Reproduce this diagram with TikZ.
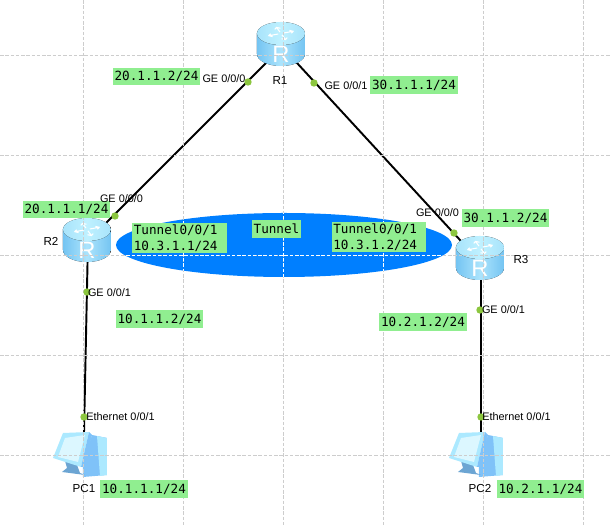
\documentclass[tikz,border=0pt]{standalone}
\usepackage{fontspec}
\setmainfont{Liberation Sans}
\newfontfamily\labelmono{DejaVu Sans Mono}
\definecolor{ipgreen}{HTML}{90EE90}
\definecolor{portgreen}{HTML}{8CC63F}
\definecolor{tunnelblue}{HTML}{007FFF}
\definecolor{gridgrey}{HTML}{CDCDCD}
\definecolor{routerside}{HTML}{74C4F2}
\definecolor{routermid}{HTML}{ACE4FC}
\definecolor{routertop}{HTML}{BFF1FF}
\definecolor{pcblue}{HTML}{7FC2F8}
\definecolor{pcframe}{HTML}{ACE9FF}
\definecolor{pcscreen}{HTML}{DCF7FF}
\tikzset{
    x=0.02cm,y=-0.02cm,
    device/.style={minimum width=27pt,minimum height=25pt,inner sep=0pt},
    port/.style={circle,fill=portgreen,minimum size=4.2pt,inner sep=0pt},
    iflabel/.style={font=\fontsize{6.2}{7}\selectfont,inner sep=0pt},
    namelabel/.style={font=\fontsize{6.6}{8}\selectfont,inner sep=0pt},
    iplabel/.style={fill=ipgreen,font=\labelmono\fontsize{7.2}{9.2}\selectfont,inner sep=1pt,
        minimum width=50pt,minimum height=10pt},
    tunnelbox/.style={iplabel,align=left,text width=52pt},
    link/.style={draw=black,line width=1.1pt},
    gridline/.style={gridgrey,dash pattern=on 2pt off 1pt,line width=0.4pt},
    routerpic/.pic={
        \fill[left color=routerside,right color=routerside,middle color=routermid]
            (-24,-11) -- (-24,10) arc[start angle=180,end angle=360,x radius=24,y radius=-12]
            -- (24,-11) -- cycle;
        \fill[left color=routertop!70!routerside,right color=routertop!70!routerside,middle color=routertop]
            (0,-10.5) ellipse[x radius=24,y radius=11.5];
        \foreach \a in {20,110,200,290}
            \draw[white,line width=0.6pt,shift={(0,-10.5)},yscale=0.5,rotate=\a]
                (3,0) -- (13,0) (10,-3) -- (13,0) -- (10,3);
        \node[white,font=\fontsize{13.5}{14}\selectfont,inner sep=0pt] (-r) at (0,10.7) {R};
    },
    pcpic/.pic={
        \fill[pcblue] (7,-20) -- (22,-17) -- (22,20) -- (-2,22) -- (-2,10) -- cycle;
        \fill[pcframe] (12,-19) -- (22,-17) -- (22,20) -- (15,21) -- cycle;
        \fill[pcblue!85!black] (-20,6) -- (-8,10) -- (-5,18) -- (0,20) -- (-23,17) -- (-18,13) -- cycle;
        \fill[pcframe] (-22,-22) -- (4,-23) -- (-4,12) -- (-32,3) -- cycle;
        \fill[pcblue] (4,-23) -- (7,-20) -- (0,12) -- (-4,12) -- cycle;
        \fill[pcscreen] (-20,-17) -- (0,-20) -- (-7,7) -- (-27,2) -- cycle;
    }
}
\begin{document}
\begin{tikzpicture}
    \useasboundingbox (0,0) rectangle (610,526);

    \fill[tunnelblue] (284,245) ellipse[x radius=168,y radius=32];

    \node[device] (R1) at (281,44) {};
    \node[device] (R2) at (87,240) {};
    \node[device] (R3) at (480,258) {};
    \node[device] (PC1) at (85,455) {};
    \node[device] (PC2) at (481,455) {};

    \draw[link] ([shift={(4,0)}]R1.center) -- ([shift={(2,0)}]R2.center);
    \draw[link] ([shift={(-1.5,0)}]R1.center) -- ([shift={(-3.4,0)}]R3.center);
    \draw[link] ([shift={(1,0)}]R2.center) -- ([shift={(-1,0)}]PC1.north);
    \draw[link] ([shift={(1,0)}]R3.center) -- (PC2.north);

    \foreach \r in {R1,R2,R3}
        \pic (\r pic) at (\r) {routerpic};
    \foreach \p in {PC1,PC2}
        \pic at (\p) {pcpic};

    \foreach \x in {83,183,283,383,483,583}
        \draw[gridline] (\x,0) -- (\x,526);
    \foreach \y in {55,155,255,355,455}
        \draw[gridline] (0,\y) -- (610,\y);
    \begin{scope}
        \clip (284,245) ellipse[x radius=168,y radius=32];
        \foreach \x in {183,283,383}
            \draw[gridline,white] (\x,200) -- (\x,290);
        \draw[gridline,white] (100,255) -- (470,255);
    \end{scope}

    \foreach \n/\x/\y in {p1/248/82,p2/314/83,p3/115/216,p4/454/233,p5/87/292,p6/480/310,p7/84/417,p8/481/417}
        \node[port] (\n) at (\x,\y) {};

    \node[iplabel] (ip1) at (156.5,76.5) {20.1.1.2/24};
    \node[iplabel] (ip2) at (414,85) {30.1.1.1/24};
    \node[iplabel] (ip3) at (66.5,209.5) {20.1.1.1/24};
    \node[iplabel] (ip4) at (505.5,218) {30.1.1.2/24};
    \node[iplabel] (ip5) at (159.5,319) {10.1.1.2/24};
    \node[iplabel] (ip6) at (423,322) {10.2.1.2/24};
    \node[iplabel] (ip7) at (144,489) {10.1.1.1/24};
    \node[iplabel] (ip8) at (540.5,489) {10.2.1.1/24};
    \node[tunnelbox] (tun1) at (179.5,238) {Tunnel0/0/1\\10.3.1.1/24};
    \node[tunnelbox] (tun2) at (379,237) {Tunnel0/0/1\\10.3.1.2/24};
    \node[iplabel,minimum width=26pt] (tun) at (276.5,229) {Tunnel};

    \node[iflabel] (if1) at (224,79) {GE 0/0/0};
    \node[iflabel] (if2) at (346,86) {GE 0/0/1};
    \node[iflabel] (if3) at (121.5,199) {GE 0/0/0};
    \node[iflabel] (if4) at (437.5,213) {GE 0/0/0};
    \node[iflabel] (if5) at (109.5,293) {GE 0/0/1};
    \node[iflabel] (if6) at (503.5,310) {GE 0/0/1};
    \node[iflabel] (if7) at (120.5,417) {Ethernet 0/0/1};
    \node[iflabel] (if8) at (516.5,417) {Ethernet 0/0/1};

    \node[namelabel] (n1) at (280,81) {R1};
    \node[namelabel] (n2) at (51,241) {R2};
    \node[namelabel] (n3) at (521,260) {R3};
    \node[namelabel] (n4) at (84,489) {PC1};
    \node[namelabel] (n5) at (480,489) {PC2};
\end{tikzpicture}
\end{document}
